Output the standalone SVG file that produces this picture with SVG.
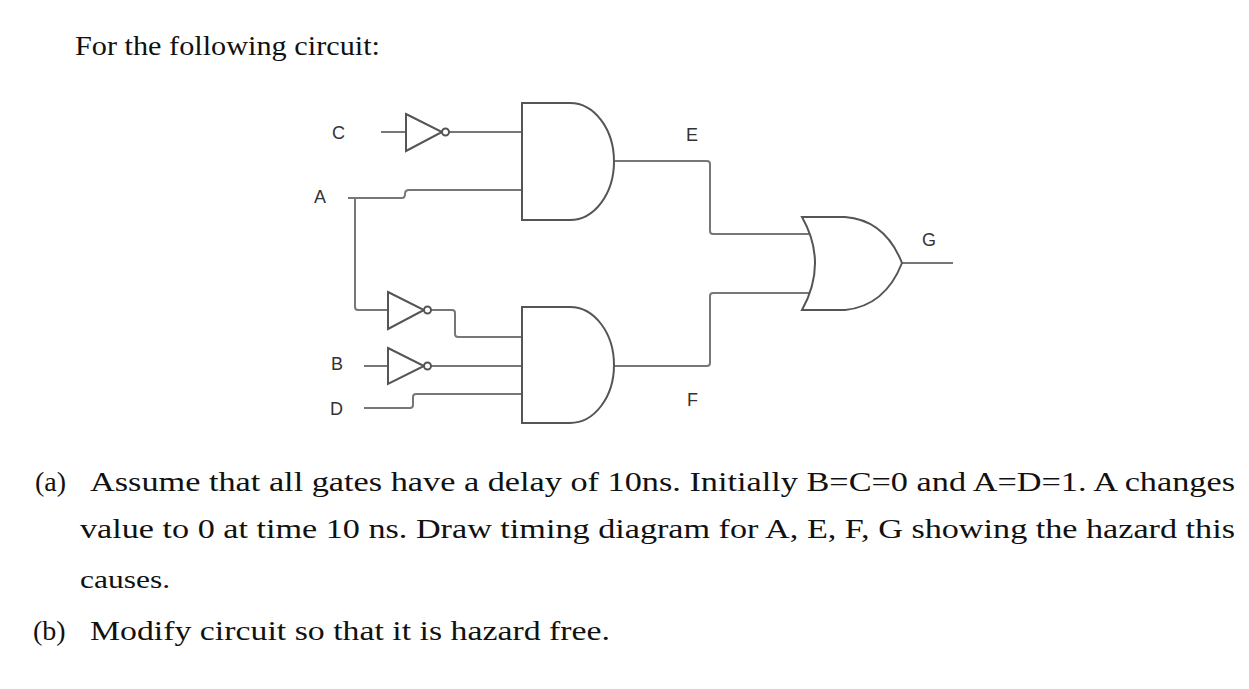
<svg xmlns="http://www.w3.org/2000/svg" width="1249" height="689" viewBox="0 0 1249 689">
<style>
.w{fill:none;stroke:#777;stroke-width:2}
.g{fill:#fff;stroke:#555;stroke-width:2}
.l{font-family:"Liberation Sans",Arial,sans-serif;font-size:18px;fill:#333}
.t{font-family:"Liberation Serif","Times New Roman",serif;font-size:28px;fill:#111}
.s{font-family:"Liberation Serif","Times New Roman",serif;font-size:25px;fill:#111}
</style>
<rect width="1249" height="689" fill="#fff"/>
<text class="t" x="75" y="55" textLength="305" lengthAdjust="spacingAndGlyphs">For the following circuit:</text>
<g id="connectors">
<path class="w" d="M381 132H406M448 132H522"/>
<path class="w" d="M348 198H402Q405 198 405 194Q405 190 409 190H522"/>
<path class="w" d="M355 198V307Q355 310 358 310H388"/>
<path class="w" d="M431 310H452Q455 310 455 313V334Q455 337 458 337H522"/>
<path class="w" d="M364 366H388M431 366H522"/>
<path class="w" d="M364 408H410Q413 408 413 405V397Q413 394 416 394H522"/>
<path class="w" d="M613 161H707Q710 161 710 164V231Q710 234 713 234H814"/>
<path class="w" d="M613 366H707Q710 366 710 363V296Q710 293 713 293H814"/>
<path class="w" d="M902 263H953"/>
</g>
<g id="notC"><path class="g" d="M406 114L442 132L406 151Z"/><circle class="g" cx="445.5" cy="132" r="3.5"/></g>
<g id="notA"><path class="g" d="M388 292L424 310L388 329Z"/><circle class="g" cx="427.5" cy="310" r="3.5"/></g>
<g id="notB"><path class="g" d="M388 348L424 366L388 384Z"/><circle class="g" cx="427.5" cy="366" r="3.5"/></g>
<g id="and1"><path class="g" d="M522 103H570A44 58.5 0 0 1 570 220H522Z"/></g>
<g id="and2"><path class="g" d="M522 307H570A44 58 0 0 1 570 423H522Z"/></g>
<g id="or1"><path class="g" d="M802 217H845Q885 220 902 263Q885 306 845 310H802Q828 263 802 217Z"/></g>
<g id="labels">
<text class="l" x="332" y="139">C</text>
<text class="l" x="314" y="203">A</text>
<text class="l" x="331" y="370">B</text>
<text class="l" x="330" y="415">D</text>
<text class="l" x="686" y="141">E</text>
<text class="l" x="687" y="406">F</text>
<text class="l" x="922" y="246">G</text>
</g>
<text class="t" x="35" y="491">(a)</text>
<text class="t" x="90" y="491" textLength="1145" lengthAdjust="spacingAndGlyphs">Assume that all gates have a delay of 10ns. Initially B=C=0 and A=D=1. A changes</text>
<text class="t" x="80" y="538" textLength="1155" lengthAdjust="spacingAndGlyphs">value to 0 at time 10 ns. Draw timing diagram for A, E, F, G showing the hazard this</text>
<text class="s" x="80" y="588" textLength="90" lengthAdjust="spacingAndGlyphs">causes.</text>
<text class="t" x="33" y="640">(b)</text>
<text class="t" x="90" y="640" textLength="520" lengthAdjust="spacingAndGlyphs">Modify circuit so that it is hazard free.</text>
</svg>
